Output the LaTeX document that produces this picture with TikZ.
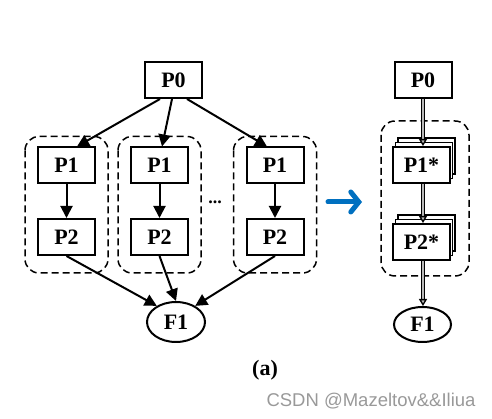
\documentclass[tikz,border=0pt]{standalone}
\usepackage{fontspec}
\setmainfont{Liberation Serif}
\newfontfamily\wmfont{Liberation Sans}
\usetikzlibrary{arrows.meta, positioning, shapes.geometric, shadows}
\definecolor{arrowblue}{RGB}{0,112,192}

\begin{document}
\begin{tikzpicture}[x=1pt, y=1pt,
    every node/.style={font=\fontsize{22}{24}\selectfont\bfseries, inner sep=0pt},
    proc/.style={draw, line width=2pt, minimum width=57pt, minimum height=36pt, fill=white},
    fin/.style={draw, ellipse, line width=2pt, minimum width=58pt, minimum height=40pt},
    stack/.style={proc, double copy shadow={shadow xshift=2.5pt, shadow yshift=4.5pt, draw=black, fill=white, line width=1.5pt}},
    group/.style={draw, line width=1.5pt, rounded corners=14pt, dash pattern=on 7pt off 4pt},
    edge/.style={line width=2pt, -{Triangle[length=12pt,width=12pt]}},
    dedge/.style={line width=1.3pt, double=gray!55, double distance=2.2pt, -{Triangle[length=7pt,width=8pt,fill=gray!55]}}]
    \useasboundingbox (0,0) rectangle (492,419);
    % left: one branch per copy
    \node[proc] (p0) at (173.5,339) {P0};
    \node[proc] (p1a) at (66.5,253.5) {P1};
    \node[proc, right=34pt of p1a] (p1b) {P1};
    \node[proc, right=56.5pt of p1b] (p1c) {P1};
    \foreach \c in {a,b,c}
        \node[proc, below=33.5pt of p1\c] (p2\c) {P2};
    \node[font=\fontsize{18}{20}\selectfont\bfseries, anchor=base] (dots) at (215,215) {...};
    \node[fin] (f1) at (176,97) {F1};
    \foreach \c in {a,b,c}
        \draw[group] ([shift={(-12,10)}]p1\c.north west) rectangle ([shift={(12,-17)}]p2\c.south east);
    \draw[edge] ([xshift=-13.5pt]p0.south) -- ([xshift=10.5pt]p1a.north);
    \draw[edge] ([xshift=-1.5pt]p0.south) -- ([xshift=2.5pt]p1b.north);
    \draw[edge] ([xshift=13.5pt]p0.south) -- ([xshift=-8pt]p1c.north);
    \foreach \c in {a,b,c}
        \draw[edge] (p1\c) -- (p2\c);
    \draw[edge] (p2a.south) -- (f1.140);
    \draw[edge] (p2b.south) -- (f1.north);
    \draw[edge] (p2c.south) -- (f1.40);
    % arrow between the two views
    \coordinate (bl) at (328,217);
    \coordinate (br) at (362,217);
    \draw[arrowblue, line width=5pt, line cap=round, -{Straight Barb[length=8pt,width=20pt,line cap=round]}] (bl) -- (br);
    % right: merged copies
    \node[proc] (p0r) at (423,339) {P0};
    \node[stack] (p1s) at (421.5,254) {P1*};
    \node[stack, below=39pt of p1s] (p2s) {P2*};
    \node[fin, minimum width=57pt, minimum height=35pt] (f1r) at (422.5,94.5) {F1};
    \draw[group] ([shift={(-11,25)}]p1s.north west) rectangle ([shift={(18,-15)}]p2s.south east);
    \draw[dedge] (p0r.south) -- (p0r.south |- p1s.north);
    \draw[dedge] (p1s.south -| p0r.south) -- (p0r.south |- p2s.north);
    \draw[dedge] (p2s.south -| p0r.south) -- (p0r.south |- f1r.north);
    \node (cap) at (265,49) {(a)};
    \node[font=\wmfont\fontsize{18.5}{20}\selectfont, text=gray!80] (wm) at (371,18) {CSDN @Mazeltov\&\&Iliua};
\end{tikzpicture}
\end{document}
